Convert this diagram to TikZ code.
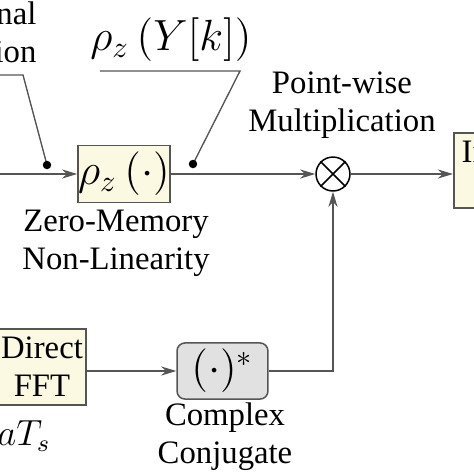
\documentclass[tikz,border=0pt]{standalone}
\usepackage{fontspec}
\setmainfont{Liberation Serif}
\usetikzlibrary{arrows.meta}
\definecolor{boxcream}{RGB}{252,249,226}
\definecolor{conjgray}{RGB}{225,225,225}
\definecolor{linegray}{RGB}{85,85,85}
\begin{document}
\begin{tikzpicture}[x=0.33pt,y=-0.33pt,
        blk/.style={draw=linegray, line width=0.5pt, fill=boxcream, inner sep=0pt},
        sig/.style={draw=linegray, line width=0.45pt, -{Stealth[length=5pt,width=3pt,inset=1.6pt]}},
        lbl/.style={font=\fontsize{10.8}{12.6}\selectfont, align=center, inner sep=0pt},
        mth/.style={font=\fontsize{14.4}{16}\selectfont, inner sep=0pt}]
        \useasboundingbox (0,0) rectangle (474,474);
        \clip (0,0) rectangle (474,474);
        % blocks
        \node[blk, mth, minimum width=30.4pt, minimum height=18.8pt] (nl) at (124,174) {$\rho_z\left(\cdot\right)$};
        \node[draw, circle, line width=0.5pt, minimum size=11.2pt, inner sep=0pt] (mul) at (333,174) {};
        \draw[line width=0.5pt] (mul.north west) -- (mul.south east) (mul.north east) -- (mul.south west);
        \node[blk, fill=conjgray, rounded corners=2.6pt, mth, minimum width=30pt, minimum height=18.5pt] (cc) at (222.5,371) {$(\cdot)^*$};
        \node[blk, lbl, minimum width=29pt, minimum height=25pt] (fft) at (42,367) {Direct\\FFT};
        \node[blk, anchor=west, minimum width=20pt, minimum height=24.8pt] (inv) at (453,170.5) {};
        \node[lbl, anchor=base west] (invtxt) at (461,162) {In};
        % labels
        \node[lbl] (nllbl) at (116,243) {Zero-Memory\\Non-Linearity};
        \node[lbl] (mullbl) at (342,105) {Point-wise\\Multiplication};
        \node[lbl] (cclbl) at (225,437) {Complex\\Conjugate};
        \node[lbl, align=right, anchor=east] (inlbl) at (37,32) {nal\\ion};
        \node[mth] (ylbl) at (171,40) {$\rho_z\left(Y\bigl[k\bigr]\right)$};
        \node[inner sep=0pt, anchor=west, font=\fontsize{11.5}{13}\selectfont] (tlbl) at (-3,436) {$aT_s$};
        % pointers
        \coordinate (inA) at (0,75);
        \coordinate (inB) at (23,75);
        \coordinate (dotA) at (47,165);
        \coordinate (yA) at (100,71);
        \coordinate (yB) at (240,71);
        \coordinate (dotB) at (193,164);
        \draw[linegray, line width=0.45pt] (inA) -- (inB) -- (dotA);
        \draw[linegray, line width=0.45pt] (yA) -- (yB) -- (dotB);
        \fill (dotA) circle (1.4pt);
        \fill (dotB) circle (1.4pt);
        % signal flow
        \coordinate (src) at (0,174);
        \draw[sig] (src) -- (nl.west);
        \draw[sig] (nl.east) -- (mul.west);
        \draw[sig] (mul.east) -- (mul.east -| inv.west);
        \draw[sig] (fft.east |- cc.west) -- (cc.west);
        \draw[sig] (cc.east) -| (mul.south);
\end{tikzpicture}
\end{document}
